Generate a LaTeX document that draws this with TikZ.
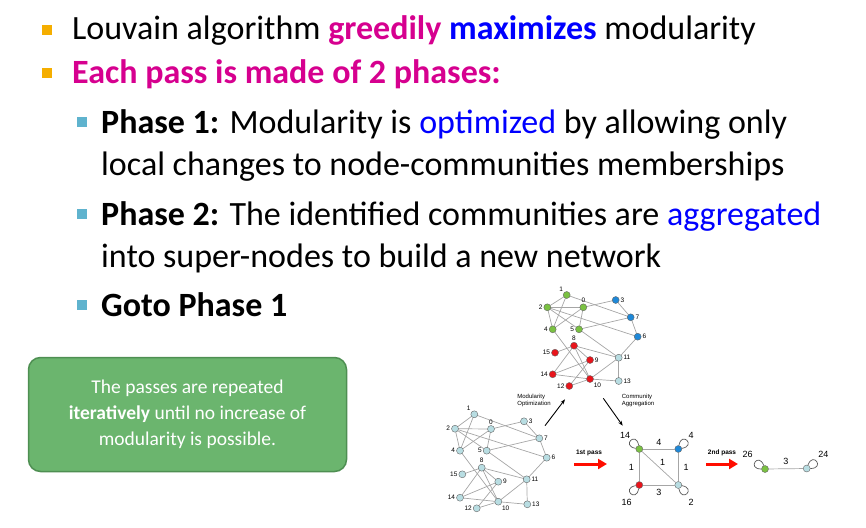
\documentclass[tikz,border=0pt]{standalone}
\usepackage{fontspec}
\setmainfont{Carlito}
\newfontfamily\lib{Liberation Sans}
\usetikzlibrary{arrows.meta}
\definecolor{mag}{HTML}{D6008F}
\definecolor{blu}{HTML}{0000FF}
\definecolor{orb}{HTML}{F5AE00}
\definecolor{skb}{HTML}{5FB3CE}
\definecolor{gfill}{HTML}{6BB56E}
\definecolor{gdraw}{HTML}{4E8F52}
\definecolor{ngn}{HTML}{7AC142}
\definecolor{nbl}{HTML}{1E88D8}
\definecolor{nrd}{HTML}{E8141B}
\definecolor{nlb}{HTML}{B8DDE2}
\tikzset{
 big/.style={anchor=base west,inner sep=0,font=\fontsize{34}{40}\selectfont},
 bul/.style={fill=orb,minimum size=10pt,inner sep=0},
 sbul/.style={fill=skb,minimum size=10pt,inner sep=0},
 gv/.style={circle,draw=gray!80!black,line width=0.4pt,fill=#1,minimum size=7pt,inner sep=0},
 ed/.style={draw=gray!70,line width=0.7pt},
 lab/.style={font=\lib\fontsize{6.5}{7}\selectfont,inner sep=1pt},
 alab/.style={font=\lib\fontsize{9}{10}\selectfont,inner sep=0},
 redarr/.style={draw=red!90!orange,line width=3pt,-{Triangle[length=9pt,width=10pt]}},
 blkarr/.style={draw=black,line width=0.9pt,-{Stealth[length=5pt]}},
 lp/.style={draw=gray!70!black,line width=0.7pt,looseness=9},
}
\begin{document}
\begin{tikzpicture}[x=1pt,y=-1pt]
\useasboundingbox (0,0) rectangle (866,527);
% text
\node[bul] (b1) at (47,30) {};
\node[big] (t1) at (72,40) {Louvain algorithm \textcolor{mag}{\textbf{greedily}} \textcolor{blu}{\textbf{maximizes}} modularity};
\node[bul] (b2) at (47,73) {};
\node[big,text=mag] (t2) at (72,83) {\textbf{Each pass is made of 2 phases:}};
\node[sbul] (b3) at (82,122) {};
\node[big] (t3) at (101,133) {\textbf{Phase 1:} Modularity is \textcolor{blu}{optimized} by allowing only};
\node[big] (t4) at (101,175) {local changes to node-communities memberships};
\node[sbul] (b4) at (82,214) {};
\node[big] (t5) at (101,225) {\textbf{Phase 2:} The identified communities are \textcolor{blu}{aggregated}};
\node[big] (t6) at (101,267) {into super-nodes to build a new network};
\node[sbul] (b5) at (82,305) {};
\node[big] (t7) at (101,316) {\textbf{Goto Phase 1}};
% green box
\node[draw=gdraw,line width=1.5pt,fill=gfill,rounded corners=12pt,minimum width=318pt,minimum height=114pt,
  text=white,align=center,font=\fontsize{19.5}{26}\selectfont] (box) at (187.5,414.5)
  {The passes are repeated\\\textbf{iteratively} until no increase of\\modularity is possible.};
% edges first
\foreach \n/\x/\y in {1/566.7/295,3/615.7/300,2/547.3/307.3,0/583.3/307.3,7/630.7/317.3,4/552.7/329.3,5/579/329.3,6/637.7/336.7,8/574/345.7,
 15/555/352.7,9/590/360,11/618.7/357.7,14/552.7/374.3,10/590/379,13/618.7/381,12/569.3/386}
 \coordinate (t\n) at (\x,\y);
\foreach \n/\x/\y in {1/474.3/414.3,3/524/421.3,2/455/428.7,0/491/429,7/539.3/438.3,4/460/450.7,5/486.7/450.7,6/546.7/457.7,8/481.7/467.7,
 15/462.3/474.3,9/498.3/481.7,11/526.7/479.3,14/460/497.7,10/498.3/501.7,13/527.3/504.3,12/476.7/508.3}
 \coordinate (u\n) at (\x,\y);
\foreach \a/\b in {0/2,0/3,0/4,0/5,1/2,1/4,1/7,2/4,2/5,2/6,3/7,4/10,5/7,5/11,6/7,6/11,8/9,8/10,8/11,8/14,8/15,9/12,9/14,10/11,10/12,10/13,10/14,11/13}
 {\draw[ed] (t\a) -- (t\b); \draw[ed] (u\a) -- (u\b);}
% nodes
\foreach \n/\c/\p in {1/ngn/above left,3/nbl/right,2/ngn/left,0/ngn/above,7/nbl/right,4/ngn/left,5/ngn/left,6/nbl/right,8/nrd/above,
 15/nrd/left,9/nrd/right,11/nlb/right,14/nrd/left,10/nrd/below right,13/nlb/right,12/nrd/left}
 {\node[gv=\c,label={[lab]\p:\n}] (tn\n) at (t\n) {}; \node[gv=nlb,label={[lab]\p:\n}] (un\n) at (u\n) {};}
% aggregated graph
\node[gv=ngn] (g1) at (639.3,449) {};
\node[gv=nbl] (g2) at (678.3,449) {};
\node[gv=nrd] (g3) at (639.3,485) {};
\node[gv=nlb] (g4) at (678.3,485) {};
\draw[ed] (g1) -- node[alab,above=3pt]{4} (g2);
\draw[ed] (g1) -- node[alab,left=5pt]{1} (g3);
\draw[ed] (g1) -- node[alab,above right=1pt]{1} (g4);
\draw[ed] (g2) -- node[alab,right=5pt]{1} (g4);
\draw[ed] (g3) -- node[alab,below=4pt]{3} (g4);
\draw[lp] (g1) to[out=100,in=170] (g1);
\draw[lp] (g2) to[out=80,in=10] (g2);
\draw[lp] (g3) to[out=190,in=260] (g3);
\draw[lp] (g4) to[out=-10,in=-80] (g4);
\node[alab] (l14) at (625,435) {14};
\node[alab] (l4) at (691,435) {4};
\node[alab] (l16) at (626.7,502) {16};
\node[alab] (l2) at (691,502) {2};
% second pass
\node[gv=ngn] (h1) at (765,469) {};
\node[gv=nlb] (h2) at (806.7,468.5) {};
\draw[ed] (h1) -- node[alab,above=4pt]{3} (h2);
\draw[lp] (h1) to[out=110,in=180] (h1);
\draw[lp] (h2) to[out=70,in=0] (h2);
\node[alab] (l26) at (747.7,454) {26};
\node[alab] (l24) at (823.3,454) {24};
% arrows
\coordinate (r1a) at (574.3,464); \coordinate (r1b) at (607,464);
\coordinate (r2a) at (706,464); \coordinate (r2b) at (738,464);
\draw[redarr] (r1a) -- (r1b);
\draw[redarr] (r2a) -- (r2b);
\node[font=\lib\bfseries\fontsize{6.5}{7}\selectfont] (p1) at (589,453) {1st pass};
\node[font=\lib\bfseries\fontsize{6.5}{7}\selectfont] (p2) at (722,453) {2nd pass};
\coordinate (k1a) at (545,425.7); \coordinate (k1b) at (565,399.3);
\coordinate (k2a) at (603.3,398.3); \coordinate (k2b) at (622.7,425.7);
\draw[blkarr] (k1a) -- (k1b);
\draw[blkarr] (k2a) -- (k2b);
\node[align=left,inner sep=0,font=\lib\fontsize{6}{7}\selectfont] (mo) at (534,400) {Modularity\\Optimization};
\node[align=left,inner sep=0,font=\lib\fontsize{6}{7}\selectfont] (ca) at (638,400) {Community\\Aggregation};
\end{tikzpicture}
\end{document}
